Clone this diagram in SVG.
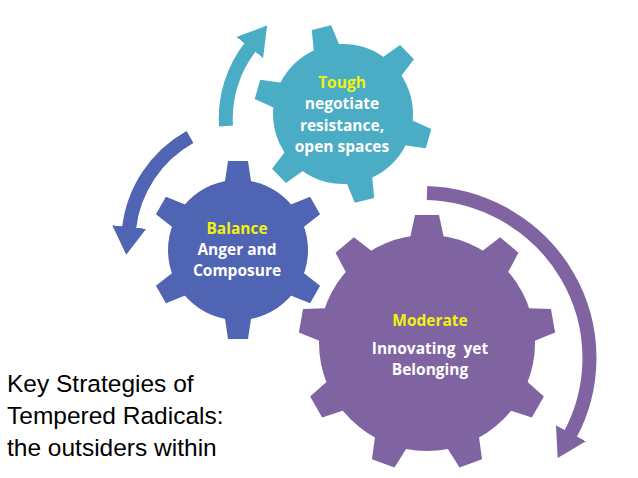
<svg xmlns="http://www.w3.org/2000/svg" width="638" height="478" viewBox="0 0 638 478">
<style>
.lbl{font-family:"Open Sans","Liberation Sans",sans-serif;font-weight:bold;font-size:15.5px;text-anchor:middle;fill:#fff}
.hd{fill:#f2f20e}
.title{font-family:"Liberation Sans",Arial,sans-serif;font-size:24.5px;fill:#000}
</style>
<defs>
<path id="t6" d="M-14,-62 L-10,-89 L10,-89 L14,-62 Z"/>
<path id="t9" d="M-18,-100 L-12,-128 L12,-128 L18,-100 Z"/>
<marker id="mt" markerUnits="userSpaceOnUse" markerWidth="40" markerHeight="40" refX="2" refY="17" orient="auto" viewBox="0 0 40 40"><path d="M0,0 L28,17 L0,34 Z" fill="#4BACC6"/></marker>
<marker id="mb" markerUnits="userSpaceOnUse" markerWidth="40" markerHeight="40" refX="2" refY="17" orient="auto" viewBox="0 0 40 40"><path d="M0,0 L28,17 L0,34 Z" fill="#5064B4"/></marker>
<marker id="mp" markerUnits="userSpaceOnUse" markerWidth="40" markerHeight="40" refX="2" refY="17" orient="auto" viewBox="0 0 40 40"><path d="M0,0 L28,17 L0,34 Z" fill="#8064A2"/></marker>
</defs>
<g id="connectors" fill="none" stroke-width="14">
<path d="M226,126 A117,117 0 0 1 251,46" stroke="#4BACC6" marker-end="url(#mt)"/>
<path d="M190,137 A120,120 0 0 0 129,229" stroke="#5064B4" marker-end="url(#mb)"/>
<path d="M427,193 A168,165 0 0 1 570,435" stroke="#8064A2" marker-end="url(#mp)"/>
</g>
<g id="tough" fill="#4BACC6">
<g transform="translate(343,114) rotate(-14)">
<circle r="70"/><use href="#t6"/><use href="#t6" transform="rotate(60)"/><use href="#t6" transform="rotate(120)"/><use href="#t6" transform="rotate(180)"/><use href="#t6" transform="rotate(240)"/><use href="#t6" transform="rotate(300)"/>
</g>
<text class="lbl" x="342" y="88"><tspan class="hd">Tough</tspan></text>
<text class="lbl" x="342" y="109">negotiate</text>
<text class="lbl" x="342" y="131">resistance,</text>
<text class="lbl" x="342" y="152">open spaces</text>
</g>
<g id="balance" fill="#5064B4">
<g transform="translate(238,250)">
<circle r="70"/><use href="#t6"/><use href="#t6" transform="rotate(60)"/><use href="#t6" transform="rotate(120)"/><use href="#t6" transform="rotate(180)"/><use href="#t6" transform="rotate(240)"/><use href="#t6" transform="rotate(300)"/>
</g>
<text class="lbl" x="237" y="234"><tspan class="hd">Balance</tspan></text>
<text class="lbl" x="237" y="255">Anger and</text>
<text class="lbl" x="237" y="276">Composure</text>
</g>
<g id="moderate" fill="#8064A2">
<g transform="translate(427,343)">
<circle r="108"/><use href="#t9"/><use href="#t9" transform="rotate(40)"/><use href="#t9" transform="rotate(80)"/><use href="#t9" transform="rotate(120)"/><use href="#t9" transform="rotate(160)"/><use href="#t9" transform="rotate(200)"/><use href="#t9" transform="rotate(240)"/><use href="#t9" transform="rotate(280)"/><use href="#t9" transform="rotate(320)"/>
</g>
<text class="lbl" x="430" y="326"><tspan class="hd">Moderate</tspan></text>
<text class="lbl" x="430" y="354" xml:space="preserve">Innovating  yet</text>
<text class="lbl" x="430" y="375">Belonging</text>
</g>
<g id="title">
<text class="title" x="7" y="392">Key Strategies of</text>
<text class="title" x="7" y="424">Tempered Radicals:</text>
<text class="title" x="7" y="456">the outsiders within</text>
</g>
</svg>
